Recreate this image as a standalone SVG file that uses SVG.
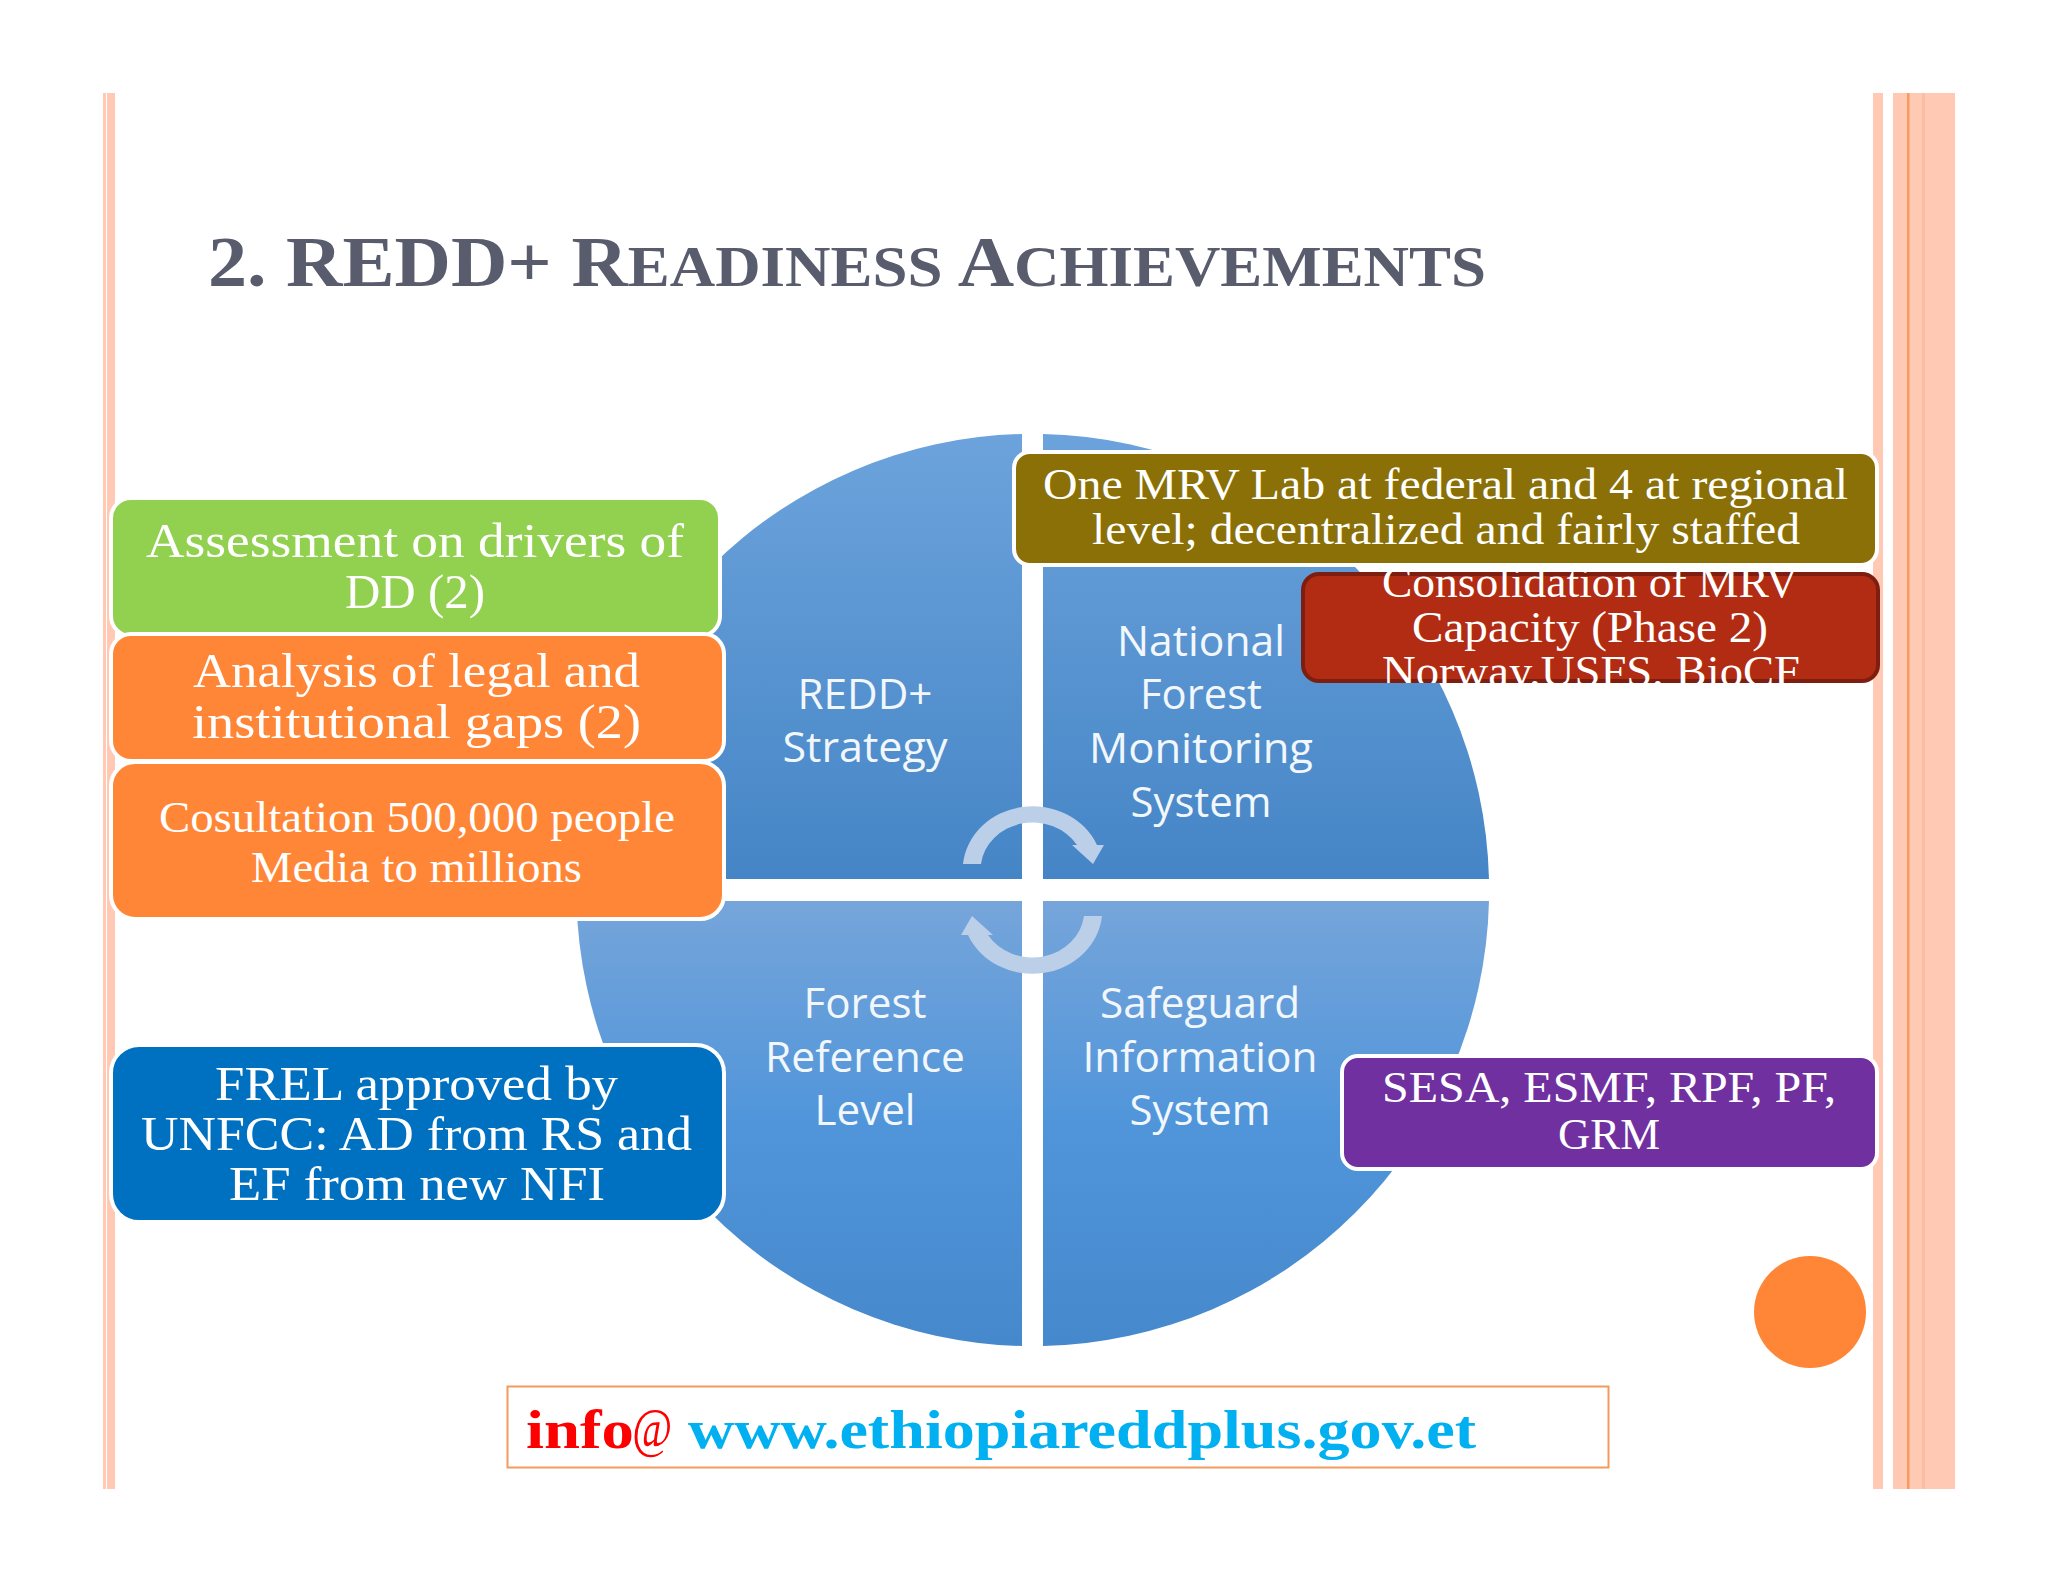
<svg xmlns="http://www.w3.org/2000/svg" width="2048" height="1582" viewBox="0 0 2048 1582">
<style>
.b{stroke:#fff;stroke-width:4}
.t{font-family:"Liberation Serif",serif;fill:#fff;text-anchor:middle}
.q{font-family:"Open Sans","Noto Sans",sans-serif;fill:#f2f7fc;font-size:42px;text-anchor:middle}
.s{fill:#ffc9b3}
.h{font-family:"Liberation Serif",serif;font-weight:bold;fill:#585c6c}
</style>
<defs>
<linearGradient id="gt" x1="0" y1="0" x2="0" y2="1"><stop offset="0" stop-color="#6ca3dc"/><stop offset="1" stop-color="#4585c6"/></linearGradient>
<linearGradient id="gb" x1="0" y1="0" x2="0" y2="1"><stop offset="0" stop-color="#76a5da"/><stop offset=".5" stop-color="#5095da"/><stop offset="1" stop-color="#4688cc"/></linearGradient>
<clipPath id="rc"><rect x="1300" y="572" width="580" height="111"/></clipPath>
</defs>
<rect width="2048" height="1582" fill="#fff"/>
<g id="frame">
<rect class="s" x="103" y="93" width="3" height="1396"/>
<rect class="s" x="107" y="93" width="8" height="1396"/>
<rect class="s" x="1873" y="93" width="10" height="1396"/>
<rect class="s" x="1893" y="93" width="62" height="1396"/>
<rect x="1907" y="93" width="2.500" height="1396" fill="#fb9a5e"/>
<rect x="1922" y="93" width="3" height="1396" fill="#fdbda3"/>
</g>
<text id="title" class="h" x="208" y="286" font-size="72" textLength="1278" lengthAdjust="spacingAndGlyphs">2. REDD+ R<tspan font-size="58">EADINESS</tspan> A<tspan font-size="58">CHIEVEMENTS</tspan></text>
<g id="quad-strategy"><path d="M1022,879H576.500A456.500,456 0 0 1 1022,434Z" fill="url(#gt)"/><text class="q" x="865" y="709" textLength="135" lengthAdjust="spacingAndGlyphs">REDD+</text><text class="q" x="865" y="762" textLength="165" lengthAdjust="spacingAndGlyphs">Strategy</text></g>
<g id="quad-nfms"><path d="M1043,879H1489A456.500,456 0 0 0 1043,434Z" fill="url(#gt)"/><text class="q" x="1201" y="656" textLength="168" lengthAdjust="spacingAndGlyphs">National</text><text class="q" x="1201" y="709" textLength="122" lengthAdjust="spacingAndGlyphs">Forest</text><text class="q" x="1201" y="763" textLength="224" lengthAdjust="spacingAndGlyphs">Monitoring</text><text class="q" x="1201" y="817" textLength="141" lengthAdjust="spacingAndGlyphs">System</text></g>
<g id="quad-frl"><path d="M1022,901H576.500A456.500,456 0 0 0 1022,1346Z" fill="url(#gb)"/><text class="q" x="865" y="1018" textLength="123" lengthAdjust="spacingAndGlyphs">Forest</text><text class="q" x="865" y="1072" textLength="200" lengthAdjust="spacingAndGlyphs">Reference</text><text class="q" x="865" y="1125" textLength="101" lengthAdjust="spacingAndGlyphs">Level</text></g>
<g id="quad-sis"><path d="M1043,901H1489A456.500,456 0 0 1 1043,1346Z" fill="url(#gb)"/><text class="q" x="1200" y="1018" textLength="200" lengthAdjust="spacingAndGlyphs">Safeguard</text><text class="q" x="1200" y="1072" textLength="235" lengthAdjust="spacingAndGlyphs">Information</text><text class="q" x="1200" y="1125" textLength="141" lengthAdjust="spacingAndGlyphs">System</text></g>
<g id="connectors" fill="#bccfe8">
<path id="arrow-top" d="M963,864A70,64 0 0 1 1097,845L1104,845L1093,864L1072,845L1077,845A52,47 0 0 0 981,864Z"/>
<path id="arrow-bottom" transform="rotate(180 1032.500 890)" d="M963,864A70,64 0 0 1 1097,845L1104,845L1093,864L1072,845L1077,845A52,47 0 0 0 981,864Z"/>
</g>
<g id="box-drivers"><rect class="b" x="111" y="498" width="609" height="138" rx="20" fill="#92d050"/><text class="t" font-size="48" x="415" y="557" textLength="538" lengthAdjust="spacingAndGlyphs">Assessment on drivers of</text><text class="t" font-size="48" x="415" y="608" textLength="140" lengthAdjust="spacingAndGlyphs">DD (2)</text></g>
<g id="box-legal"><rect class="b" x="111" y="634" width="613" height="127" rx="20" fill="#ff8636"/><text class="t" font-size="48" x="416.500" y="687" textLength="447" lengthAdjust="spacingAndGlyphs">Analysis of legal and</text><text class="t" font-size="48" x="416.500" y="738" textLength="449" lengthAdjust="spacingAndGlyphs">institutional gaps (2)</text></g>
<g id="box-consultation"><rect class="b" x="111" y="762" width="613" height="157" rx="24" fill="#ff8636"/><text class="t" font-size="44" x="417" y="832" textLength="516" lengthAdjust="spacingAndGlyphs">Cosultation 500,000 people</text><text class="t" font-size="44" x="416.500" y="882" textLength="331" lengthAdjust="spacingAndGlyphs">Media to millions</text></g>
<g id="box-frel"><rect class="b" x="111" y="1045" width="613" height="177" rx="28" fill="#0070c0"/><text class="t" font-size="48" x="416.500" y="1100" textLength="403" lengthAdjust="spacingAndGlyphs">FREL approved by</text><text class="t" font-size="48" x="416.500" y="1150" textLength="551" lengthAdjust="spacingAndGlyphs">UNFCC: AD from RS and</text><text class="t" font-size="48" x="417" y="1200" textLength="376" lengthAdjust="spacingAndGlyphs">EF from new NFI</text></g>
<g id="box-mrv-lab"><rect class="b" x="1014" y="452" width="863" height="113" rx="16" fill="#8a7006"/><text class="t" font-size="44" x="1445.500" y="499" textLength="805" lengthAdjust="spacingAndGlyphs">One MRV Lab at federal and 4 at regional</text><text class="t" font-size="44" x="1446" y="544" textLength="708" lengthAdjust="spacingAndGlyphs">level; decentralized and fairly staffed</text></g>
<g id="box-capacity"><rect x="1303" y="574" width="575" height="107" rx="16" fill="#b22c13" stroke="#7d1e10" stroke-width="4"/><g clip-path="url(#rc)"><text class="t" font-size="44" x="1590" y="597" textLength="416" lengthAdjust="spacingAndGlyphs">Consolidation of MRV</text><text class="t" font-size="44" x="1590" y="642" textLength="356" lengthAdjust="spacingAndGlyphs">Capacity (Phase 2)</text><text class="t" font-size="44" x="1591" y="686" textLength="418" lengthAdjust="spacingAndGlyphs">Norway,USFS, BioCF</text></g></g>
<g id="box-safeguards"><rect class="b" x="1342" y="1056" width="535" height="113" rx="16" fill="#7030a0"/><text class="t" font-size="44" x="1609" y="1102" textLength="454" lengthAdjust="spacingAndGlyphs">SESA, ESMF, RPF, PF,</text><text class="t" font-size="44" x="1609" y="1149" textLength="102" lengthAdjust="spacingAndGlyphs">GRM</text></g>
<circle id="dot" cx="1810" cy="1312" r="56" fill="#ff8636"/>
<g id="info-box"><rect x="507.500" y="1386.500" width="1101" height="81" fill="#fff" stroke="#f59a5f" stroke-width="2"/><text font-family="Liberation Serif,serif" font-weight="bold" font-size="54" x="526" y="1448" fill="#ff0000" textLength="108" lengthAdjust="spacingAndGlyphs">info</text><text font-family="Liberation Serif,serif" font-size="54" x="632" y="1446" fill="#ff0000" font-style="italic" textLength="40" lengthAdjust="spacingAndGlyphs">@</text><text font-family="Liberation Serif,serif" font-weight="bold" font-size="54" x="688" y="1448" fill="#00b0f0" textLength="788" lengthAdjust="spacingAndGlyphs">www.ethiopiareddplus.gov.et</text></g>
</svg>
